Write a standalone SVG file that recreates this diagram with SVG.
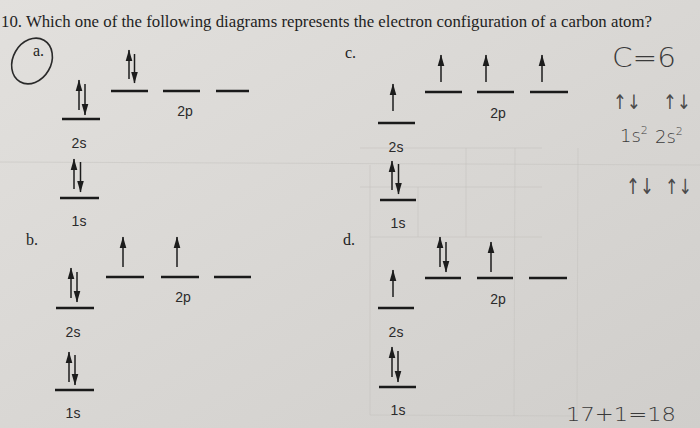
<svg xmlns="http://www.w3.org/2000/svg" width="700" height="428" viewBox="0 0 700 428">
  <defs>
    <linearGradient id="paper" x1="0" y1="0" x2="1" y2="1">
      <stop offset="0" stop-color="#e2e0dd"/>
      <stop offset="0.5" stop-color="#d9d7d4"/>
      <stop offset="1" stop-color="#d0cecb"/>
    </linearGradient>
    <marker id="head" viewBox="0 -4 12 8" markerWidth="12" markerHeight="8" refX="11" refY="0" orient="auto" markerUnits="userSpaceOnUse">
      <path d="M0,-3.3 L11.5,0 L0,3.3 Z" fill="#1c1c1c"/>
    </marker>
    <style>
      .lvl { stroke: #1a1a1a; stroke-width: 2.6; fill: none; }
      .arr { stroke: #1c1c1c; stroke-width: 1.5; fill: none; marker-end: url(#head); }
      .lab { font-family: "Liberation Sans", Arial, sans-serif; font-size: 14px; fill: #2a2a2a; text-anchor: middle; }
      .ser { font-family: "Liberation Serif", "Times New Roman", serif; fill: #1e1e1e; }
      .hand { font-family: "DejaVu Sans", sans-serif; font-weight: 200; fill: #3a3a3a; }
      .harr { font-family: "DejaVu Sans", sans-serif; font-weight: normal; fill: #4a4a4a; }
      .ghost { stroke: #c4c2bf; stroke-width: 1; fill: none; opacity: 0.55; }
    </style>
  </defs>

  <rect x="0" y="0" width="700" height="428" fill="url(#paper)"/>

  <!-- faint bleed-through lines from the reverse side -->
  <g id="ghost-lines">
    <line class="ghost" x1="0" y1="162" x2="700" y2="165"/>
    <line class="ghost" x1="360" y1="148" x2="542" y2="148"/>
    <line class="ghost" x1="360" y1="187" x2="542" y2="187"/>
    <line class="ghost" x1="370" y1="237" x2="542" y2="237"/>
    <line class="ghost" x1="370" y1="415" x2="577" y2="416"/>
    <line class="ghost" x1="370" y1="165" x2="370" y2="415"/>
    <line class="ghost" x1="418" y1="187" x2="418" y2="237"/>
    <line class="ghost" x1="466" y1="148" x2="466" y2="237"/>
    <line class="ghost" x1="515" y1="148" x2="514" y2="416"/>
    <line class="ghost" x1="578" y1="148" x2="577" y2="416"/>
  </g>

  <text id="title" class="ser" x="1" y="27" font-size="17" textLength="651" lengthAdjust="spacingAndGlyphs">10. Which one of the following diagrams represents the electron configuration of a carbon atom?</text>

  <!-- Diagram a -->
  <g id="diagram-a">
    <ellipse cx="32" cy="61" rx="19" ry="24" transform="rotate(30 32 61)" fill="none" stroke="#2a2a2a" stroke-width="1.6"/>
    <text class="ser" x="33" y="56" font-size="16">a.</text>
    <g id="a-2p">
      <line class="lvl" x1="111" y1="91" x2="148" y2="91"/>
      <line class="lvl" x1="163" y1="91" x2="200" y2="91"/>
      <line class="lvl" x1="216" y1="91" x2="249" y2="91"/>
      <line class="arr" x1="129" y1="79" x2="129" y2="50"/>
      <line class="arr" x1="134.5" y1="54" x2="134.5" y2="83"/>
      <text class="lab" x="185" y="116">2p</text>
    </g>
    <g id="a-2s">
      <line class="lvl" x1="62" y1="119" x2="100" y2="119"/>
      <line class="arr" x1="79" y1="110" x2="79" y2="80"/>
      <line class="arr" x1="85" y1="84" x2="85" y2="115"/>
      <text class="lab" x="79" y="148">2s</text>
    </g>
    <g id="a-1s">
      <line class="lvl" x1="60" y1="198" x2="99" y2="198"/>
      <line class="arr" x1="74" y1="189" x2="74" y2="159"/>
      <line class="arr" x1="80.5" y1="162" x2="80.5" y2="192"/>
      <text class="lab" x="79" y="226">1s</text>
    </g>
  </g>

  <!-- Diagram b -->
  <g id="diagram-b">
    <text class="ser" x="26" y="245" font-size="16">b.</text>
    <g id="b-2p">
      <line class="lvl" x1="106" y1="277" x2="144" y2="277"/>
      <line class="lvl" x1="161" y1="277" x2="199" y2="277"/>
      <line class="lvl" x1="214" y1="277" x2="251" y2="277"/>
      <line class="arr" x1="123" y1="267" x2="123" y2="237"/>
      <line class="arr" x1="177" y1="267" x2="177" y2="237"/>
      <text class="lab" x="183" y="302">2p</text>
    </g>
    <g id="b-2s">
      <line class="lvl" x1="56" y1="308" x2="94" y2="308"/>
      <line class="arr" x1="71" y1="298" x2="71" y2="268"/>
      <line class="arr" x1="77" y1="272" x2="77" y2="302"/>
      <text class="lab" x="73" y="337">2s</text>
    </g>
    <g id="b-1s">
      <line class="lvl" x1="55" y1="390" x2="94" y2="390"/>
      <line class="arr" x1="69" y1="382" x2="69" y2="352"/>
      <line class="arr" x1="75" y1="355" x2="75" y2="385"/>
      <text class="lab" x="73" y="418">1s</text>
    </g>
  </g>

  <!-- Diagram c -->
  <g id="diagram-c">
    <text class="ser" x="345" y="58" font-size="16">c.</text>
    <g id="c-2p">
      <line class="lvl" x1="425" y1="92" x2="462" y2="92"/>
      <line class="lvl" x1="477" y1="92" x2="514" y2="92"/>
      <line class="lvl" x1="530" y1="92" x2="568" y2="92"/>
      <line class="arr" x1="441" y1="82" x2="441" y2="55"/>
      <line class="arr" x1="486" y1="82" x2="486" y2="55"/>
      <line class="arr" x1="542" y1="82" x2="542" y2="55"/>
      <text class="lab" x="498" y="118">2p</text>
    </g>
    <g id="c-2s">
      <line class="lvl" x1="378" y1="123" x2="415" y2="123"/>
      <line class="arr" x1="393" y1="111" x2="393" y2="84"/>
      <text class="lab" x="396" y="152">2s</text>
    </g>
    <g id="c-1s">
      <line class="lvl" x1="380" y1="200" x2="416" y2="200"/>
      <line class="arr" x1="392" y1="190" x2="392" y2="161"/>
      <line class="arr" x1="398.5" y1="164" x2="398.5" y2="194"/>
      <text class="lab" x="398" y="228">1s</text>
    </g>
  </g>

  <!-- Diagram d -->
  <g id="diagram-d">
    <text class="ser" x="343" y="245" font-size="16">d.</text>
    <g id="d-2p">
      <line class="lvl" x1="425" y1="278" x2="461" y2="278"/>
      <line class="lvl" x1="477" y1="278" x2="513" y2="278"/>
      <line class="lvl" x1="529" y1="278" x2="567" y2="278"/>
      <line class="arr" x1="440" y1="267" x2="440" y2="237"/>
      <line class="arr" x1="446" y1="242" x2="446" y2="272"/>
      <line class="arr" x1="491" y1="272" x2="491" y2="242"/>
      <text class="lab" x="498" y="304">2p</text>
    </g>
    <g id="d-2s">
      <line class="lvl" x1="378" y1="308" x2="414" y2="308"/>
      <line class="arr" x1="393" y1="297" x2="393" y2="270"/>
      <text class="lab" x="396" y="337">2s</text>
    </g>
    <g id="d-1s">
      <line class="lvl" x1="379" y1="387" x2="416" y2="387"/>
      <line class="arr" x1="392" y1="377" x2="392" y2="347"/>
      <line class="arr" x1="398" y1="351" x2="398" y2="382"/>
      <text class="lab" x="398" y="415">1s</text>
    </g>
  </g>

  <!-- handwritten notes -->
  <g id="notes">
    <text class="hand" x="612" y="67" font-size="26" textLength="64" lengthAdjust="spacingAndGlyphs">C=6</text>
    <text class="harr" x="613" y="109" font-size="20" textLength="28" lengthAdjust="spacingAndGlyphs">↑↓</text>
    <text class="harr" x="663" y="109" font-size="20" textLength="28" lengthAdjust="spacingAndGlyphs">↑↓</text>
    <text class="hand" x="620" y="142" font-size="18">1s<tspan font-size="11" dy="-8">2</tspan></text>
    <text class="hand" x="655" y="143" font-size="18">2s<tspan font-size="11" dy="-8">2</tspan></text>
    <text class="harr" x="626" y="194" font-size="22" textLength="28" lengthAdjust="spacingAndGlyphs">↑↓</text>
    <text class="harr" x="665" y="194" font-size="21" textLength="27" lengthAdjust="spacingAndGlyphs">↑↓</text>
    <text class="hand" x="566" y="421" font-size="19" textLength="110" lengthAdjust="spacingAndGlyphs">17+1=18</text>
  </g>
</svg>
